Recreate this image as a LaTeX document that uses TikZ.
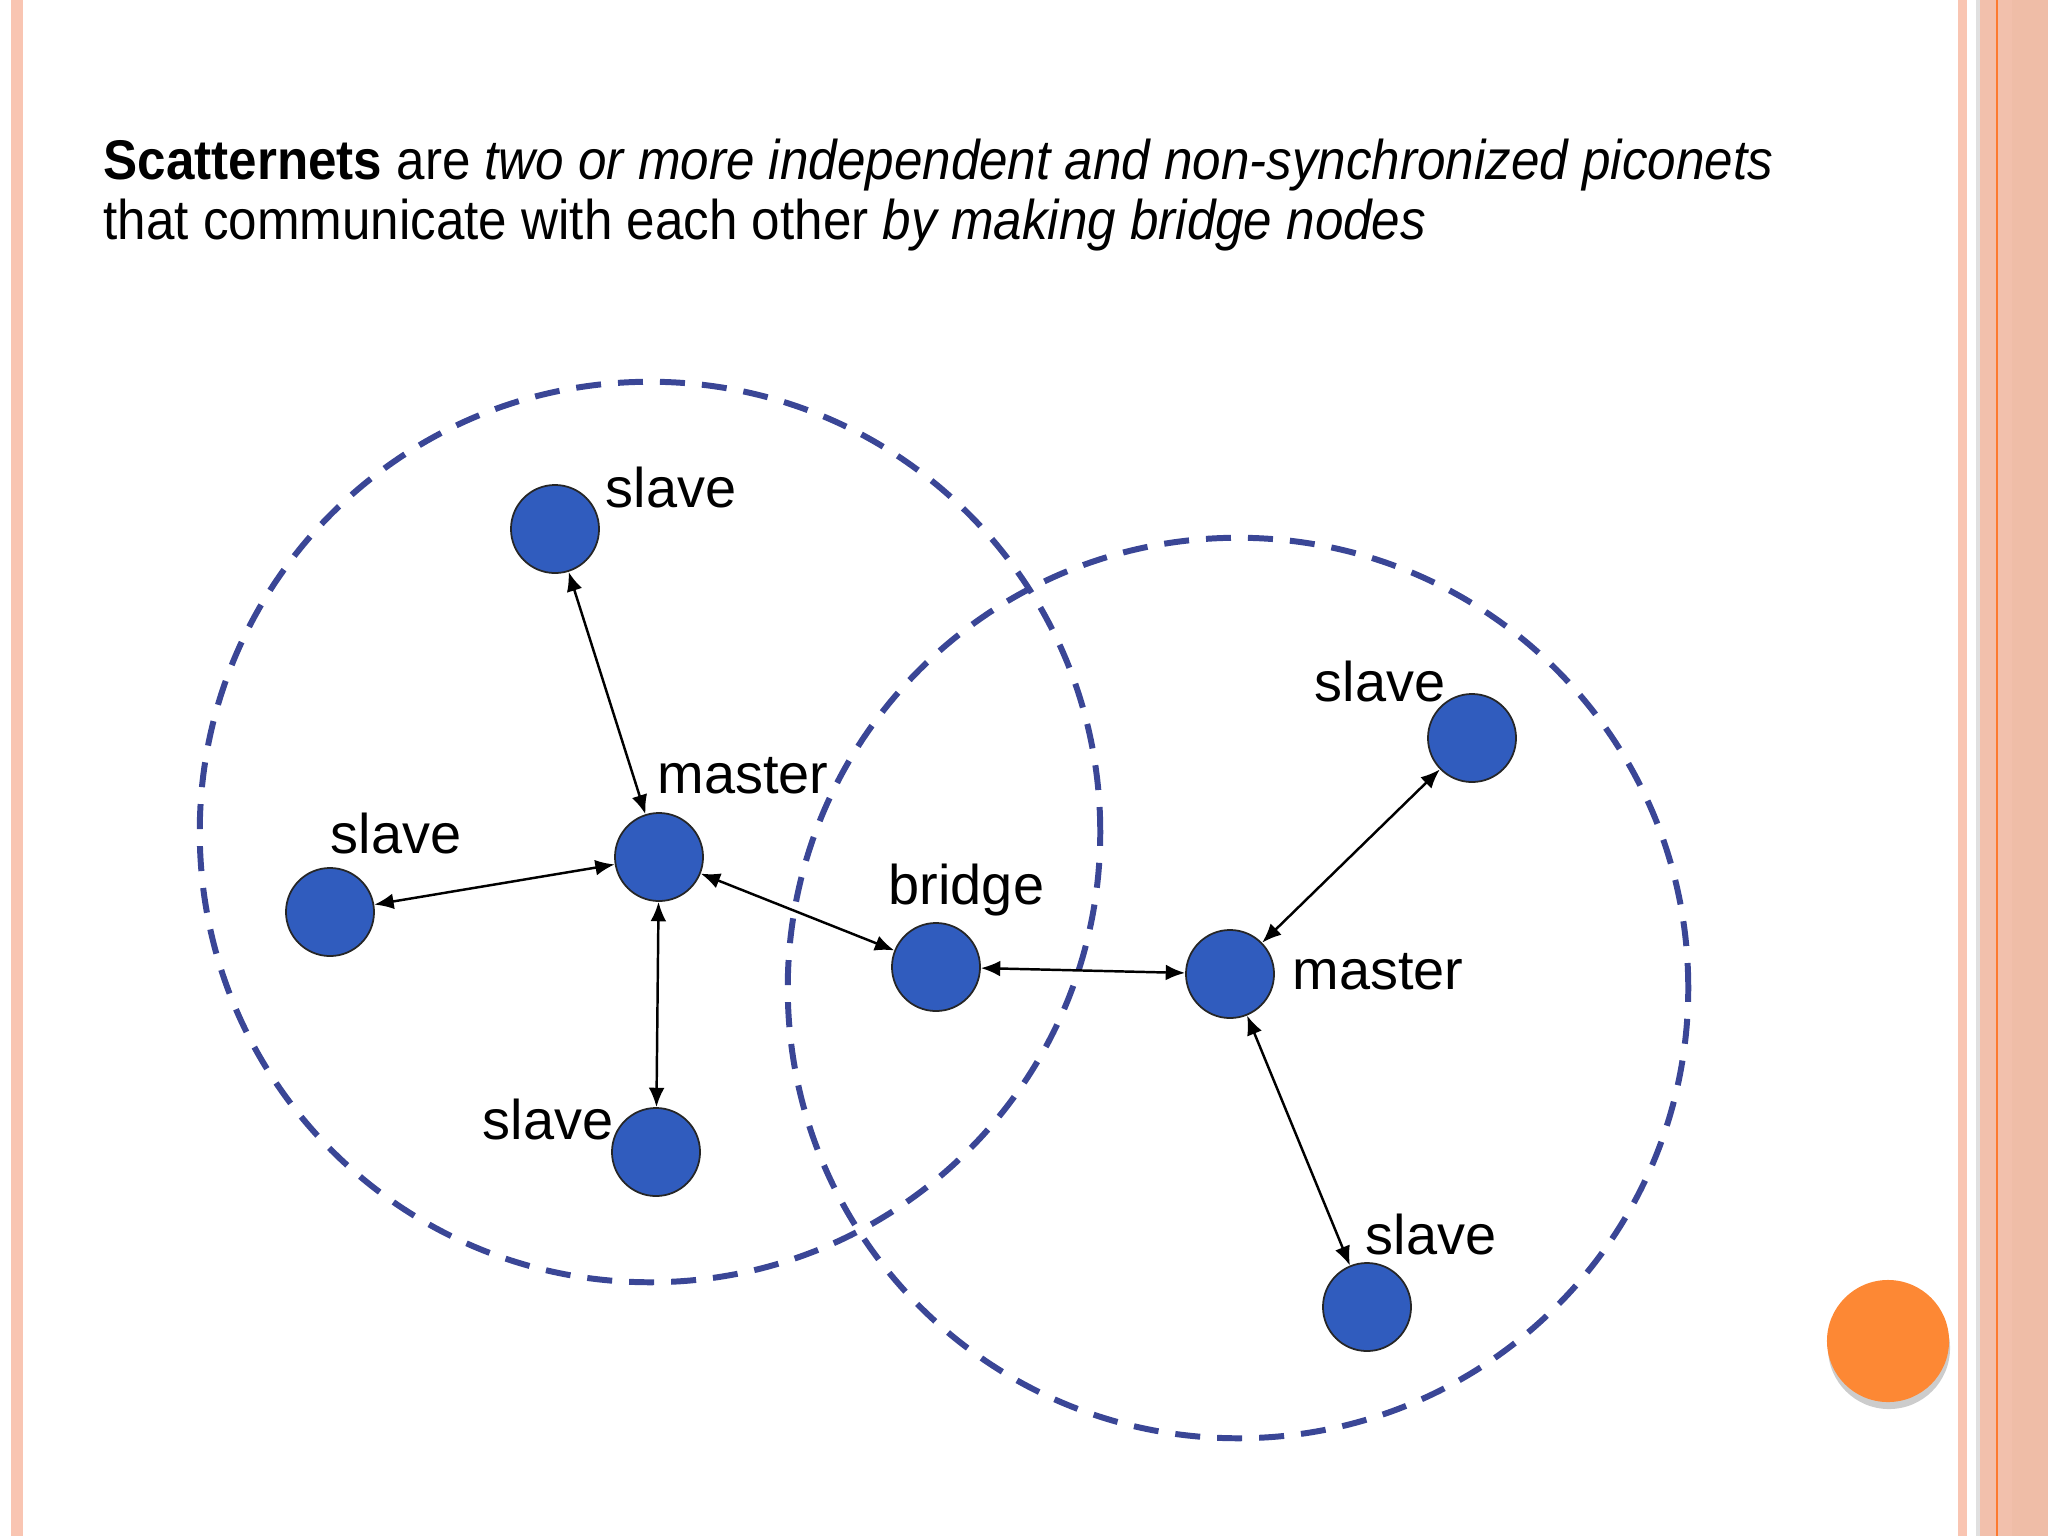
\documentclass[tikz,border=0pt]{standalone}
\usepackage{fontspec}
\setmainfont{Liberation Sans}
\newfontfamily\headfont[FakeStretch=0.915]{Liberation Sans}
\usepackage{tikz}
\usetikzlibrary{arrows, arrows.meta, positioning, shadows}

\definecolor{netblue}{RGB}{48,92,190}
\definecolor{ringblue}{RGB}{58,70,150}
\definecolor{slidepink}{RGB}{249,197,178}
\definecolor{sidepink}{RGB}{242,192,172}
\definecolor{dotorange}{RGB}{253,136,52}

\begin{document}
\begin{tikzpicture}[x=0.01cm, y=-0.01cm, >={Latex[length=5.5pt,width=4.5pt]},
  dev node/.style={circle, draw=black!85, fill=netblue, line width=0.5pt, minimum size=0.88cm, inner sep=0pt},
  lbl/.style={anchor=base west, inner sep=0pt, font=\fontsize{15.9pt}{19pt}\selectfont},
  head/.style={anchor=base west, inner sep=0pt, font=\headfont\fontsize{15.9pt}{19pt}\selectfont},
  ring/.style={draw=ringblue, dash pattern=on 0.25cm off 0.17cm, line width=1.7pt},
  link/.style={<->, line width=0.7pt, black}]
  \useasboundingbox (0,0) rectangle (2048,1536);

  % slide frame
  \fill[slidepink] (11,0) rectangle (23,1536);
  \fill[slidepink] (1958,0) rectangle (1967,1536);
  \fill[black!12] (1976,0) rectangle (1980,1536);
  \fill[sidepink] (1980,0) rectangle (2048,1536);
  \fill[sidepink!95!brown] (2012,0) rectangle (2048,1536);
  \fill[dotorange!90!red] (1996,0) rectangle (1998,1536);
  \fill[dotorange, drop shadow={shadow xshift=0.01cm, shadow yshift=-0.07cm, fill=black, opacity=0.2}]
    (1888,1341) circle [radius=0.61cm];

  % heading
  \node[head] (h1) at (103,179) {\textbf{Scatternets} are \textit{two or more independent and non-synchronized piconets}};
  \node[head] (h2) at (103,239) {that communicate with each other \textit{by making bridge nodes}};

  % piconets
  \draw[ring] (650,832) circle [radius=4.5cm];
  \draw[ring] (1238,988) circle [radius=4.5cm];

  \node[dev node] (1) at (659,857) {};
  \node[dev node] (2) at (555,529) {};
  \node[dev node] (3) at (330,912) {};
  \node[dev node] (4) at (656,1152) {};
  \node[dev node] (5) at (936,967) {};
  \node[dev node] (6) at (1230,974) {};
  \node[dev node] (7) at (1472,738) {};
  \node[dev node] (8) at (1367,1307) {};

  \node[lbl] (l1) at (657,793) {master};
  \node[lbl] (l2) at (605,507) {slave};
  \node[lbl] (l3) at (330,853) {slave};
  \node[lbl] (l4) at (482,1139) {slave};
  \node[lbl] (l5) at (888,904) {bridge};
  \node[lbl] (l6) at (1292,989) {master};
  \node[lbl] (l7) at (1314,701) {slave};
  \node[lbl] (l8) at (1365,1254) {slave};

  \path[link]
    (1) edge (2)
    (1) edge (3)
    (1) edge (4)
    (1) edge (5)
    (5) edge (6)
    (6) edge (7)
    (6) edge (8);
\end{tikzpicture}
\end{document}
